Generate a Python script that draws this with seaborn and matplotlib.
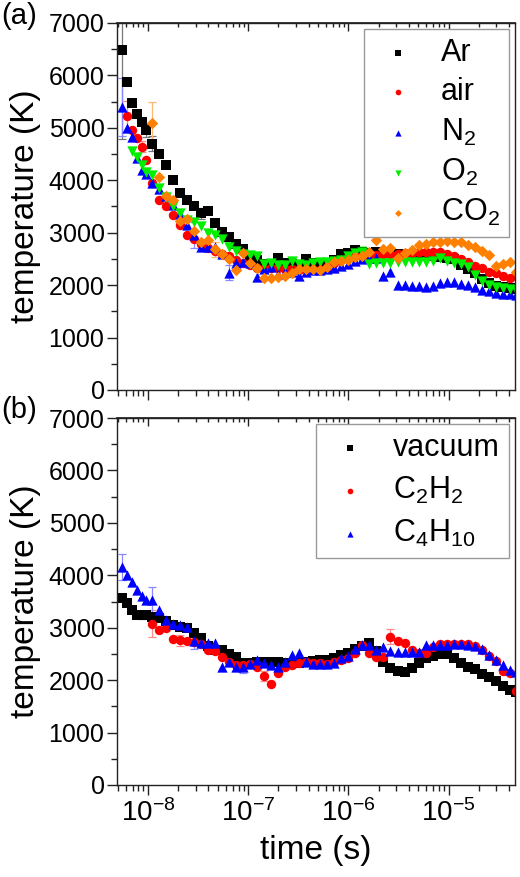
import numpy as np
import pandas as pd
import matplotlib
matplotlib.use("Agg")
import matplotlib.pyplot as plt
import seaborn as sns
from matplotlib.ticker import LogLocator, MultipleLocator, LogFormatterMathtext, NullFormatter

nan = np.nan

# time grid (ns)
t_ns = [5.5, 6.17, 6.92, 7.76, 8.71, 9.55, 10.96, 12.9, 15.1, 17.8, 20.9, 24.5, 28.8, 33.9,
        39.8, 46.8, 55.0, 64.6, 75.9, 89.1, 104.7, 123, 144.5, 170, 200, 234, 275, 324, 380,
        447, 525, 617, 724, 851, 1000, 1175, 1380, 1622, 1905, 2239, 2630, 3090, 3631, 4266,
        5012, 5888, 6918, 8128, 9550, 11220, 13183, 15488, 18197, 21380, 25119, 29512, 34674,
        40738, 46774]

# ---- panel (a) ----
names_a = ["Ar", "air", r"N$_2$", r"O$_2$", r"CO$_2$"]
ar = [6480, 5880, 5480, 5260, 5120, 4950, 4700, 4500, 4290, 4010,
      3750, 3620, 3500, 3370, 3410, 3180, 3010, 2920, 2780, 2690,
      2550, 2480, 2400, 2350, 2510, 2420, 2400, 2380, 2500, 2420,
      2380, 2400, 2480, 2600, 2620, 2670, 2640, 2620, 2630, 2640,
      2620, 2600, 2580, 2580, 2570, 2560, 2560, 2540, 2520, 2500,
      2380, 2300, 2230, 2120, 2040, 1980, 1960, 1950, 1920]
air = [nan, 5220, 4950, 4800, 4640, 4380, 3950, 3620, 3500, 3340,
       3150, 2950, 2880, 2780, 2710, 2650, 2590, 2560, 2480, 2420,
       2380, 2330, 2300, 2320, 2330, 2300, 2310, 2290, 2300, 2280,
       2290, 2350, 2420, 2480, 2540, 2560, 2550, 2560, 2580, 2590,
       2600, 2600, 2610, 2620, 2630, 2640, 2640, 2630, 2600, 2560,
       2500, 2440, 2370, 2320, 2260, 2230, 2180, 2140, 2180]
n2 = [5400, 4990, 4830, 4420, 4200, 4120, 3950, 3830, 3700, 3530,
      3350, 3150, 2950, 2730, 2720, 2720, 2600, 2240, 2420, 2440,
      2420, 2160, 2300, 2350, 2220, 2260, 2250, 2170, 2260, 2280,
      2290, 2300, 2330, 2360, 2400, 2460, 2500, 2520, 2520, 2170,
      2260, 2010, 2000, 1990, 1980, 1960, 1990, 2040, 2060, 2060,
      2030, 2000, 1960, 1910, 1880, 1850, 1830, 1830, 1820]
o2 = [nan, nan, 4550, 4450, 4300, 4150, 4100, 3860, 3680, 3500,
      3380, 3250, 3210, 3120, 3000, 2950, 2880, 2720, 2660, 2600,
      2570, 2550, 2400, 2420, 2390, 2380, 2470, 2400, 2390, 2430,
      2440, 2440, 2470, 2480, 2560, 2620, 2640, 2400, 2420, 2420,
      2420, 2440, 2450, 2450, 2450, 2450, 2460, 2510, 2460, 2430,
      2400, 2350, 2200, 2080, 2000, 1960, 1950, 1930, 1900]
co2 = [nan, nan, nan, nan, nan, nan, 5100, 4070, 3700, 3630,
       3230, 3270, 3030, 2830, 2870, 2680, 2600, 2500, 2290, 2620,
       2420, 2320, 2140, 2130, 2150, 2180, 2230, 2300, 2310, 2300,
       2290, 2340, 2440, 2470, 2480, 2530, 2560, 2640, 2860, 2680,
       2700, 2520, 2610, 2670, 2760, 2780, 2820, 2830, 2840, 2830,
       2820, 2770, 2720, 2660, 2580, 2360, 2400, 2450, 2250]
# sparse error bars: (index, +/- K)
ar_err = [(0, 1700), (5, 120), (6, 150), (13, 100), (22, 80)]
air_err = [(1, 300), (4, 100)]
n2_err = [(0, 550), (12, 250), (17, 150)]
o2_err = [(17, 100), (36, 100)]
co2_err = [(6, 400), (15, 150)]

# ---- panel (b) ----
names_b = ["vacuum", r"C$_2$H$_2$", r"C$_4$H$_{10}$"]
vac = [3560, 3465, 3340, 3250, 3240, 3240, 3210, 3180, 3120, 3050,
       3010, 2990, 2890, 2800, 2650, 2570, 2570, 2500, 2450, 2320,
       2330, 2340, 2350, 2350, 2340, 2330, 2320, 2320, 2340, 2360,
       2380, 2390, 2430, 2480, 2520, 2600, 2650, 2700, 2550, 2350,
       2230, 2180, 2160, 2230, 2330, 2420, 2470, 2500, 2500, 2420,
       2320, 2260, 2220, 2120, 2060, 1990, 1890, 1820, 1780]
c2h2 = [nan, nan, nan, nan, nan, nan, 3080, 2960, 2990, 2780,
        2760, 2740, 2720, 2690, 2580, 2560, 2450, 2350, 2290, 2280,
        2300, 2250, 2080, 1930, 2130, 2250, 2290, 2320, 2350, 2330,
        2320, 2300, 2340, 2380, 2420, 2520, 2670, 2510, 2450, 2440,
        2830, 2740, 2700, 2580, 2510, 2520, 2640, 2680, 2680, 2680,
        2680, 2680, 2660, 2570, 2460, 2360, 2170, 2130, 1790]
c4h10 = [4160, 4000, 3880, 3720, 3600, 3530, 3530, 3340, 3150, 3080,
         3050, 3020, 2750, 2700, 2700, 2700, 2260, 2350, 2260, 2260,
         2300, 2380, 2320, 2290, 2260, 2350, 2480, 2510, 2350, 2310,
         2300, 2300, 2330, 2420, 2460, 2600, 2670, 2670, 2580, 2640,
         2550, 2540, 2540, 2540, 2540, 2670, 2670, 2670, 2670, 2680,
         2680, 2670, 2650, 2600, 2480, 2390, 2290, 2190, 2160]
vac_err = [(4, 80)]
c2h2_err = [(6, 250), (10, 100), (22, 100), (40, 150)]
c4h10_err = [(0, 250), (6, 250), (12, 150), (19, 120)]

yticks = [0, 1000, 2000, 3000, 4000, 5000, 6000, 7000]

# ---- style ----
sns.set_theme(style="white")
plt.rcParams["font.family"] = ["Liberation Sans", "DejaVu Sans"]
plt.rcParams["mathtext.fontset"] = "custom"
plt.rcParams["mathtext.rm"] = "Liberation Sans"
plt.rcParams["mathtext.it"] = "Liberation Sans:italic"
plt.rcParams["mathtext.bf"] = "Liberation Sans:bold"
plt.rcParams["mathtext.sf"] = "Liberation Sans"
for key in ("text.color", "axes.labelcolor", "xtick.color", "ytick.color"):
    plt.rcParams[key] = "black"

t_s = np.array(t_ns) * 1e-9

fig = plt.figure(figsize=(5.2, 8.77), dpi=100)
W, H = 520.0, 877.0
ax1 = fig.add_axes([117 / W, 1 - 390 / H, 398 / W, 367 / H])
ax2 = fig.add_axes([117 / W, 1 - 785 / H, 398 / W, 367 / H])


def draw(ax, names, series, errs, colors, ecolors, markers, sizes):
    for name, vals, err, c, ec, m, s in zip(names, series, errs, colors, ecolors, markers, sizes):
        df = pd.DataFrame({"t": t_s, "T": np.array(vals, dtype=float)}).dropna()
        if err:
            idx = [i for i, _ in err]
            ax.errorbar(t_s[idx], np.array(vals, dtype=float)[idx], yerr=[e for _, e in err],
                        fmt="none", ecolor=ec, elinewidth=0.9, capsize=3, capthick=0.9, zorder=1)
        sns.scatterplot(data=df, x="t", y="T", ax=ax, color=c, marker=m, s=s,
                        linewidth=0, label=name, zorder=2)


draw(ax1, names_a, [ar, air, n2, o2, co2],
     [ar_err, air_err, n2_err, o2_err, co2_err],
     ["#000000", "#FF0000", "#0000FF", "#00EE00", "#FF8000"],
     ["#777777", "#FF8888", "#8888FF", "#88FF88", "#FFB870"],
     ["s", "o", "^", "v", "D"], [44, 46, 55, 55, 34])
draw(ax2, names_b, [vac, c2h2, c4h10],
     [vac_err, c2h2_err, c4h10_err],
     ["#000000", "#FF0000", "#0000FF"],
     ["#777777", "#FF8888", "#8888FF"],
     ["s", "o", "^"], [44, 46, 55])

for ax in (ax1, ax2):
    ax.set_xscale("log")
    ax.set_xlim(4.9e-9, 4.6e-5)
    ax.set_ylim(0, 7000)
    ax.set_yticks(yticks)
    ax.yaxis.set_minor_locator(MultipleLocator(500))
    ax.xaxis.set_major_locator(LogLocator(base=10, numticks=20))
    ax.xaxis.set_minor_locator(LogLocator(base=10, subs=np.arange(2, 10), numticks=40))
    ax.xaxis.set_minor_formatter(NullFormatter())
    ax.xaxis.set_major_formatter(LogFormatterMathtext())
    for sp in ax.spines.values():
        sp.set_color("#222222")
        sp.set_linewidth(1.0)
    ax.tick_params(axis="both", which="major", direction="out", length=7, width=1.0,
                   color="#222222", left=True, bottom=True, top=False, right=False)
    ax.tick_params(axis="both", which="minor", direction="out", length=4, width=1.0,
                   color="#222222", left=True, bottom=True, top=False, right=False)
    ax.tick_params(axis="y", labelsize=18, pad=2, labelcolor="black")
    ax.tick_params(axis="x", labelsize=20, pad=3, labelcolor="black")
    sec = ax.secondary_xaxis("top")
    sec.set_xscale("log")
    sec.xaxis.set_major_locator(LogLocator(base=10, numticks=20))
    sec.xaxis.set_minor_locator(LogLocator(base=10, subs=np.arange(2, 10), numticks=40))
    sec.tick_params(which="major", direction="in", length=6, width=1.0, color="#222222", labeltop=False)
    sec.tick_params(which="minor", direction="in", length=3, width=1.0, color="#222222", labeltop=False)
    sec.spines["top"].set_color("#222222")
    ax.set_ylabel("temperature (K)", fontsize=24, color="black")
    ax.yaxis.set_label_coords(-0.19, 0.5)
    ax.set_xlabel("")

ax1.tick_params(axis="x", labelbottom=False)
ax2.set_xlabel("time (s)", fontsize=24, labelpad=6, color="black")

leg_kw = dict(loc="upper right", frameon=True, fancybox=False, edgecolor="#999999",
              fontsize=22, markerscale=0.6, handletextpad=0.6, borderpad=0.3,
              borderaxespad=0.2, handlelength=1.6, framealpha=1, labelcolor="black")
l1 = ax1.legend(labelspacing=0.3, **leg_kw)
l2 = ax2.legend(labelspacing=0.38, **leg_kw)
for l in (l1, l2):
    l.get_frame().set_linewidth(1.0)

fig.text(1 / W, 1 - 2 / H, "(a)", fontsize=21, ha="left", va="top", color="black")
fig.text(1 / W, 1 - 396 / H, "(b)", fontsize=21, ha="left", va="top", color="black")

fig.savefig("out.png", dpi=100)
